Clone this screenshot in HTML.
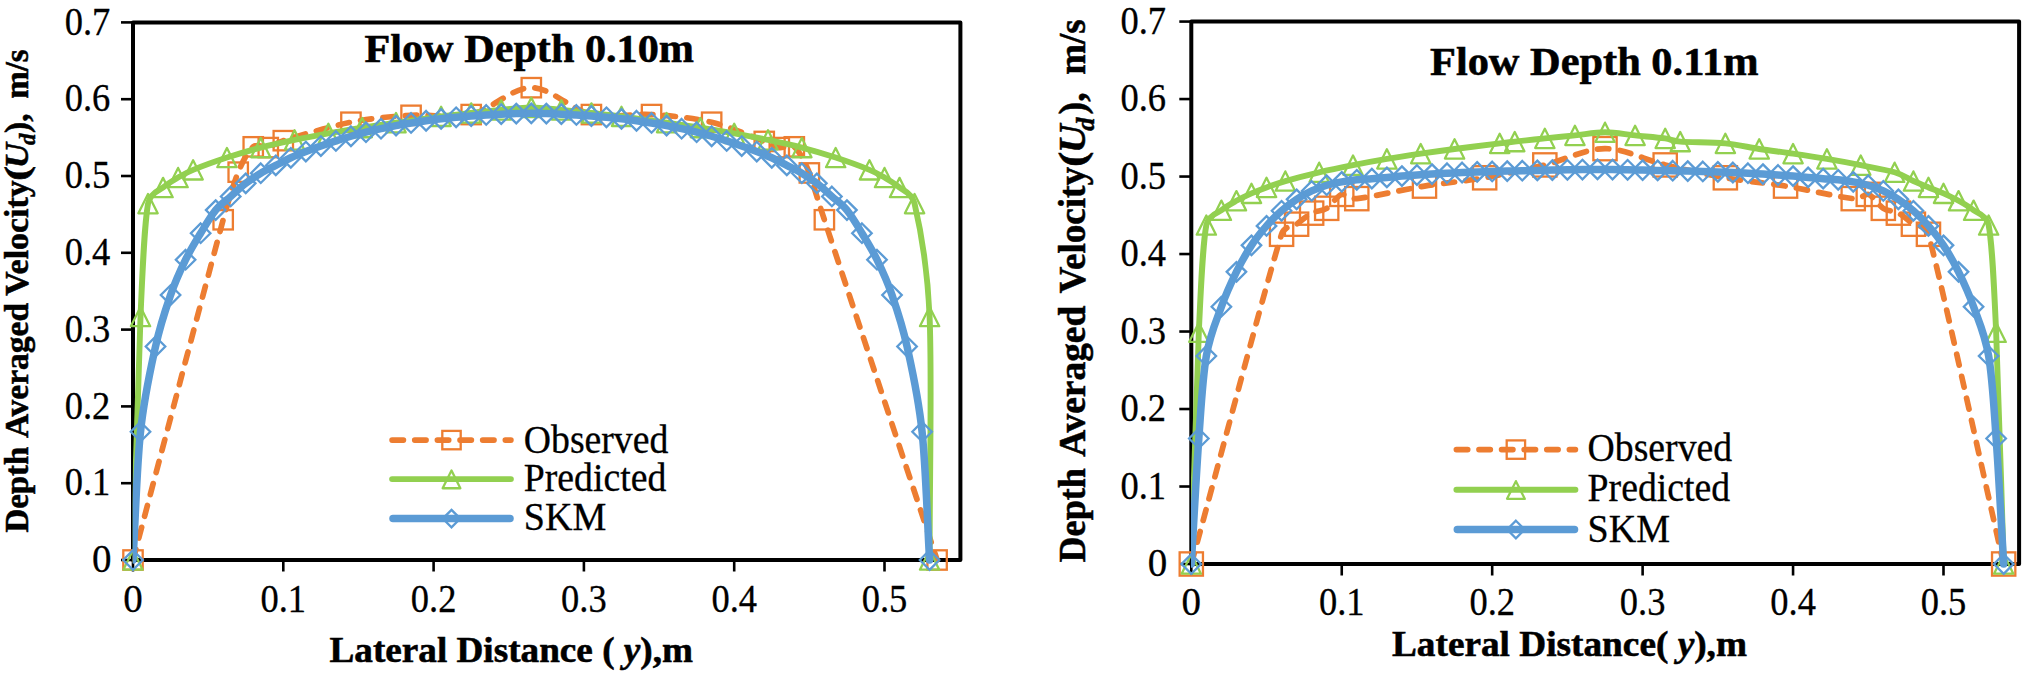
<!DOCTYPE html>
<html><head><meta charset="utf-8"><title>Depth averaged velocity</title>
<style>html,body{margin:0;padding:0;background:#fff}svg{display:block}</style></head>
<body>
<svg width="2023" height="674" viewBox="0 0 2023 674" font-family="'Liberation Serif', serif" fill="#000">
<rect width="2023" height="674" fill="#fff"/>
<path d="M133,560L133,22.40L960.4,22.40L960.4,560Z" fill="none" stroke="#000" stroke-width="4" stroke-linejoin="round"/>
<path d="M121,560.00L133,560.00" stroke="#000" stroke-width="2.6"/>
<path d="M121,483.20L133,483.20" stroke="#000" stroke-width="2.6"/>
<path d="M121,406.40L133,406.40" stroke="#000" stroke-width="2.6"/>
<path d="M121,329.60L133,329.60" stroke="#000" stroke-width="2.6"/>
<path d="M121,252.80L133,252.80" stroke="#000" stroke-width="2.6"/>
<path d="M121,176.00L133,176.00" stroke="#000" stroke-width="2.6"/>
<path d="M121,99.20L133,99.20" stroke="#000" stroke-width="2.6"/>
<path d="M121,22.40L133,22.40" stroke="#000" stroke-width="2.6"/>
<path d="M133.00,560L133.00,571.5" stroke="#000" stroke-width="2.6"/>
<path d="M283.30,560L283.30,571.5" stroke="#000" stroke-width="2.6"/>
<path d="M433.60,560L433.60,571.5" stroke="#000" stroke-width="2.6"/>
<path d="M583.90,560L583.90,571.5" stroke="#000" stroke-width="2.6"/>
<path d="M734.20,560L734.20,571.5" stroke="#000" stroke-width="2.6"/>
<path d="M884.50,560L884.50,571.5" stroke="#000" stroke-width="2.6"/>
<text x="111.5" y="572.2" font-size="39" text-anchor="end" font-weight="normal" stroke="#000" stroke-width="0.3">0</text>
<text x="110.3" y="495.4" font-size="39" text-anchor="end" font-weight="normal" stroke="#000" stroke-width="0.3" textLength="45.6" lengthAdjust="spacingAndGlyphs">0.1</text>
<text x="110.3" y="418.6" font-size="39" text-anchor="end" font-weight="normal" stroke="#000" stroke-width="0.3" textLength="45.6" lengthAdjust="spacingAndGlyphs">0.2</text>
<text x="110.3" y="341.8" font-size="39" text-anchor="end" font-weight="normal" stroke="#000" stroke-width="0.3" textLength="45.6" lengthAdjust="spacingAndGlyphs">0.3</text>
<text x="110.3" y="265.0" font-size="39" text-anchor="end" font-weight="normal" stroke="#000" stroke-width="0.3" textLength="45.6" lengthAdjust="spacingAndGlyphs">0.4</text>
<text x="110.3" y="188.2" font-size="39" text-anchor="end" font-weight="normal" stroke="#000" stroke-width="0.3" textLength="45.6" lengthAdjust="spacingAndGlyphs">0.5</text>
<text x="110.3" y="111.4" font-size="39" text-anchor="end" font-weight="normal" stroke="#000" stroke-width="0.3" textLength="45.6" lengthAdjust="spacingAndGlyphs">0.6</text>
<text x="110.3" y="34.6" font-size="39" text-anchor="end" font-weight="normal" stroke="#000" stroke-width="0.3" textLength="45.6" lengthAdjust="spacingAndGlyphs">0.7</text>
<text x="133.0" y="611.5" font-size="39" text-anchor="middle" font-weight="normal" stroke="#000" stroke-width="0.3">0</text>
<text x="283.3" y="611.5" font-size="39" text-anchor="middle" font-weight="normal" stroke="#000" stroke-width="0.3" textLength="45.6" lengthAdjust="spacingAndGlyphs">0.1</text>
<text x="433.6" y="611.5" font-size="39" text-anchor="middle" font-weight="normal" stroke="#000" stroke-width="0.3" textLength="45.6" lengthAdjust="spacingAndGlyphs">0.2</text>
<text x="583.9" y="611.5" font-size="39" text-anchor="middle" font-weight="normal" stroke="#000" stroke-width="0.3" textLength="45.6" lengthAdjust="spacingAndGlyphs">0.3</text>
<text x="734.2" y="611.5" font-size="39" text-anchor="middle" font-weight="normal" stroke="#000" stroke-width="0.3" textLength="45.6" lengthAdjust="spacingAndGlyphs">0.4</text>
<text x="884.5" y="611.5" font-size="39" text-anchor="middle" font-weight="normal" stroke="#000" stroke-width="0.3" textLength="45.6" lengthAdjust="spacingAndGlyphs">0.5</text>
<clipPath id="cl"><rect x="132.7" y="0" width="900" height="674"/></clipPath>
<path d="M133.00,560.00C163.06,446.59 205.65,284.42 223.18,219.78C229.72,195.68 236.34,176.69 238.21,172.16C243.22,160.00 248.23,150.91 253.24,146.82C258.25,142.72 263.26,148.61 268.27,147.58C271.15,147.00 275.39,143.10 283.30,140.67C297.08,136.45 329.64,126.46 350.93,122.24C372.23,118.02 391.01,116.61 411.06,115.33C431.10,114.05 451.13,119.17 471.18,114.56C491.22,109.95 511.26,87.68 531.30,87.68C551.34,87.68 571.38,110.08 591.41,114.56C611.45,119.04 631.50,113.28 651.53,114.56C671.57,115.84 692.87,117.76 711.65,122.24C730.44,126.72 752.99,137.22 764.26,141.44C771.86,144.29 775.91,146.98 779.29,147.58C784.30,148.48 789.31,142.59 794.32,146.82C799.33,151.04 804.34,160.77 809.35,172.93C811.16,177.33 816.67,196.42 824.38,219.78C845.67,284.29 899.53,446.59 937.11,560.00" fill="none" stroke="#ED7D31" stroke-width="5.7" stroke-dasharray="11.3 11.35" stroke-linecap="round" stroke-linejoin="round" clip-path="url(#cl)"/>
<rect x="123.30" y="550.30" width="19.40" height="19.40" fill="none" stroke="#ED7D31" stroke-width="2.3"/>
<rect x="213.48" y="210.08" width="19.40" height="19.40" fill="none" stroke="#ED7D31" stroke-width="2.3"/>
<rect x="228.51" y="162.46" width="19.40" height="19.40" fill="none" stroke="#ED7D31" stroke-width="2.3"/>
<rect x="243.54" y="137.12" width="19.40" height="19.40" fill="none" stroke="#ED7D31" stroke-width="2.3"/>
<rect x="258.57" y="137.88" width="19.40" height="19.40" fill="none" stroke="#ED7D31" stroke-width="2.3"/>
<rect x="273.60" y="130.97" width="19.40" height="19.40" fill="none" stroke="#ED7D31" stroke-width="2.3"/>
<rect x="341.23" y="112.54" width="19.40" height="19.40" fill="none" stroke="#ED7D31" stroke-width="2.3"/>
<rect x="401.36" y="105.63" width="19.40" height="19.40" fill="none" stroke="#ED7D31" stroke-width="2.3"/>
<rect x="461.48" y="104.86" width="19.40" height="19.40" fill="none" stroke="#ED7D31" stroke-width="2.3"/>
<rect x="521.60" y="77.98" width="19.40" height="19.40" fill="none" stroke="#ED7D31" stroke-width="2.3"/>
<rect x="581.71" y="104.86" width="19.40" height="19.40" fill="none" stroke="#ED7D31" stroke-width="2.3"/>
<rect x="641.83" y="104.86" width="19.40" height="19.40" fill="none" stroke="#ED7D31" stroke-width="2.3"/>
<rect x="701.95" y="112.54" width="19.40" height="19.40" fill="none" stroke="#ED7D31" stroke-width="2.3"/>
<rect x="754.56" y="131.74" width="19.40" height="19.40" fill="none" stroke="#ED7D31" stroke-width="2.3"/>
<rect x="769.59" y="137.88" width="19.40" height="19.40" fill="none" stroke="#ED7D31" stroke-width="2.3"/>
<rect x="784.62" y="137.12" width="19.40" height="19.40" fill="none" stroke="#ED7D31" stroke-width="2.3"/>
<rect x="799.65" y="163.23" width="19.40" height="19.40" fill="none" stroke="#ED7D31" stroke-width="2.3"/>
<rect x="814.68" y="210.08" width="19.40" height="19.40" fill="none" stroke="#ED7D31" stroke-width="2.3"/>
<rect x="927.40" y="550.30" width="19.40" height="19.40" fill="none" stroke="#ED7D31" stroke-width="2.3"/>
<path d="M133.00,560.00C135.50,478.85 138.01,375.94 140.51,316.54C142.90,260.02 144.45,224.11 148.03,203.65C149.93,192.79 160.53,189.72 163.06,187.52C168.07,183.17 173.08,180.48 178.09,177.54C182.90,174.71 185.31,173.05 193.12,169.86C201.26,166.53 215.66,161.28 226.94,157.57C238.21,153.86 249.48,150.53 260.75,147.58C272.03,144.64 283.30,142.27 294.57,139.90C305.84,137.54 317.12,135.42 328.39,133.38C339.66,131.33 350.94,129.40 362.21,127.62C373.48,125.84 382.87,124.58 396.02,122.70C409.18,120.82 428.59,117.94 441.12,116.33C453.64,114.71 461.16,114.09 471.18,113.02C481.19,111.96 491.22,110.89 501.24,109.95C511.25,109.02 521.28,107.42 531.30,107.42C541.32,107.42 551.34,109.02 561.36,109.95C571.38,110.89 581.40,111.96 591.42,113.02C601.44,114.09 608.95,114.71 621.48,116.33C634.00,117.94 653.41,120.82 666.57,122.70C679.72,124.58 689.11,125.84 700.38,127.62C711.66,129.40 722.93,131.33 734.20,133.38C745.47,135.42 756.75,137.54 768.02,139.90C779.29,142.27 790.56,144.64 801.84,147.58C813.11,150.53 824.38,153.86 835.65,157.57C846.93,161.28 861.33,166.53 869.47,169.86C877.28,173.05 879.69,174.71 884.50,177.54C889.51,180.48 894.52,183.17 899.53,187.52C902.03,189.69 912.06,192.91 914.56,203.65C919.36,224.25 927.19,259.65 929.59,316.54C932.10,375.94 929.59,478.85 929.59,560.00" fill="none" stroke="#92D050" stroke-width="5.9" stroke-linecap="round" stroke-linejoin="round" clip-path="url(#cl)"/>
<path d="M133.00,550.35L142.65,569.65L123.35,569.65Z" fill="none" stroke="#92D050" stroke-width="2.3" stroke-linejoin="round"/>
<path d="M140.51,306.89L150.16,326.19L130.86,326.19Z" fill="none" stroke="#92D050" stroke-width="2.3" stroke-linejoin="round"/>
<path d="M148.03,194.00L157.68,213.30L138.38,213.30Z" fill="none" stroke="#92D050" stroke-width="2.3" stroke-linejoin="round"/>
<path d="M163.06,177.87L172.71,197.17L153.41,197.17Z" fill="none" stroke="#92D050" stroke-width="2.3" stroke-linejoin="round"/>
<path d="M178.09,167.89L187.74,187.19L168.44,187.19Z" fill="none" stroke="#92D050" stroke-width="2.3" stroke-linejoin="round"/>
<path d="M193.12,160.21L202.77,179.51L183.47,179.51Z" fill="none" stroke="#92D050" stroke-width="2.3" stroke-linejoin="round"/>
<path d="M226.94,147.92L236.59,167.22L217.29,167.22Z" fill="none" stroke="#92D050" stroke-width="2.3" stroke-linejoin="round"/>
<path d="M260.75,137.93L270.40,157.23L251.10,157.23Z" fill="none" stroke="#92D050" stroke-width="2.3" stroke-linejoin="round"/>
<path d="M294.57,130.25L304.22,149.55L284.92,149.55Z" fill="none" stroke="#92D050" stroke-width="2.3" stroke-linejoin="round"/>
<path d="M328.39,123.73L338.04,143.03L318.74,143.03Z" fill="none" stroke="#92D050" stroke-width="2.3" stroke-linejoin="round"/>
<path d="M362.21,117.97L371.86,137.27L352.56,137.27Z" fill="none" stroke="#92D050" stroke-width="2.3" stroke-linejoin="round"/>
<path d="M396.02,113.05L405.67,132.35L386.38,132.35Z" fill="none" stroke="#92D050" stroke-width="2.3" stroke-linejoin="round"/>
<path d="M441.12,106.68L450.76,125.98L431.47,125.98Z" fill="none" stroke="#92D050" stroke-width="2.3" stroke-linejoin="round"/>
<path d="M471.18,103.37L480.82,122.67L461.53,122.67Z" fill="none" stroke="#92D050" stroke-width="2.3" stroke-linejoin="round"/>
<path d="M501.24,100.30L510.88,119.60L491.59,119.60Z" fill="none" stroke="#92D050" stroke-width="2.3" stroke-linejoin="round"/>
<path d="M531.30,97.77L540.95,117.07L521.65,117.07Z" fill="none" stroke="#92D050" stroke-width="2.3" stroke-linejoin="round"/>
<path d="M561.36,100.30L571.00,119.60L551.71,119.60Z" fill="none" stroke="#92D050" stroke-width="2.3" stroke-linejoin="round"/>
<path d="M591.42,103.37L601.07,122.67L581.77,122.67Z" fill="none" stroke="#92D050" stroke-width="2.3" stroke-linejoin="round"/>
<path d="M621.48,106.68L631.13,125.98L611.83,125.98Z" fill="none" stroke="#92D050" stroke-width="2.3" stroke-linejoin="round"/>
<path d="M666.57,113.05L676.22,132.35L656.92,132.35Z" fill="none" stroke="#92D050" stroke-width="2.3" stroke-linejoin="round"/>
<path d="M700.38,117.97L710.03,137.27L690.73,137.27Z" fill="none" stroke="#92D050" stroke-width="2.3" stroke-linejoin="round"/>
<path d="M734.20,123.73L743.85,143.03L724.55,143.03Z" fill="none" stroke="#92D050" stroke-width="2.3" stroke-linejoin="round"/>
<path d="M768.02,130.25L777.67,149.55L758.37,149.55Z" fill="none" stroke="#92D050" stroke-width="2.3" stroke-linejoin="round"/>
<path d="M801.84,137.93L811.49,157.23L792.19,157.23Z" fill="none" stroke="#92D050" stroke-width="2.3" stroke-linejoin="round"/>
<path d="M835.65,147.92L845.30,167.22L826.00,167.22Z" fill="none" stroke="#92D050" stroke-width="2.3" stroke-linejoin="round"/>
<path d="M869.47,160.21L879.12,179.51L859.82,179.51Z" fill="none" stroke="#92D050" stroke-width="2.3" stroke-linejoin="round"/>
<path d="M884.50,167.89L894.15,187.19L874.85,187.19Z" fill="none" stroke="#92D050" stroke-width="2.3" stroke-linejoin="round"/>
<path d="M899.53,177.87L909.18,197.17L889.88,197.17Z" fill="none" stroke="#92D050" stroke-width="2.3" stroke-linejoin="round"/>
<path d="M914.56,194.00L924.21,213.30L904.91,213.30Z" fill="none" stroke="#92D050" stroke-width="2.3" stroke-linejoin="round"/>
<path d="M929.59,306.89L939.24,326.19L919.94,326.19Z" fill="none" stroke="#92D050" stroke-width="2.3" stroke-linejoin="round"/>
<path d="M929.59,550.35L939.24,569.65L919.94,569.65Z" fill="none" stroke="#92D050" stroke-width="2.3" stroke-linejoin="round"/>
<path d="M133.00,560.00C135.50,517.25 136.76,467.33 140.51,431.74C144.27,396.16 150.53,369.28 155.54,346.50C160.55,323.71 165.56,309.50 170.57,295.04C175.58,280.58 180.59,270.02 185.60,259.71C190.61,249.41 195.62,241.49 200.63,233.22C205.64,224.95 210.66,216.22 215.67,210.10C220.68,203.97 225.69,200.94 230.69,196.48C235.70,192.02 240.72,187.20 245.73,183.33C250.74,179.45 255.75,176.22 260.75,173.23C265.76,170.24 270.77,167.97 275.78,165.39C280.79,162.82 285.81,160.08 290.82,157.77C295.83,155.46 300.84,153.48 305.85,151.53C310.86,149.57 315.87,147.81 320.88,146.04C325.88,144.28 330.89,142.57 335.90,140.94C340.91,139.31 345.93,137.71 350.94,136.25C355.95,134.79 360.96,133.45 365.97,132.19C370.98,130.93 375.99,129.79 381.00,128.69C386.00,127.59 391.02,126.55 396.03,125.60C401.04,124.65 406.05,123.79 411.06,122.98C416.06,122.18 421.08,121.45 426.09,120.75C431.10,120.06 436.11,119.40 441.12,118.82C446.12,118.24 451.13,117.73 456.14,117.26C461.15,116.79 466.17,116.38 471.18,116.00C476.19,115.61 481.20,115.24 486.21,114.94C491.22,114.63 496.23,114.40 501.24,114.18C506.25,113.95 511.25,113.75 516.26,113.61C521.27,113.47 526.29,113.33 531.30,113.33C536.31,113.33 541.32,113.47 546.33,113.61C551.34,113.75 556.35,113.95 561.36,114.18C566.37,114.40 571.38,114.63 576.38,114.94C581.39,115.24 586.40,115.61 591.41,116.00C596.42,116.38 601.43,116.79 606.44,117.26C611.45,117.73 616.47,118.24 621.48,118.82C626.49,119.40 631.50,120.06 636.51,120.75C641.52,121.45 646.53,122.18 651.54,122.98C656.55,123.79 661.56,124.65 666.57,125.60C671.58,126.55 676.59,127.59 681.60,128.69C686.61,129.79 691.62,130.93 696.62,132.19C701.63,133.45 706.64,134.79 711.65,136.25C716.66,137.71 721.68,139.31 726.69,140.94C731.70,142.57 736.71,144.28 741.72,146.04C746.73,147.81 751.74,149.57 756.75,151.53C761.75,153.48 766.76,155.46 771.77,157.77C776.78,160.08 781.79,162.82 786.80,165.39C791.81,167.97 796.83,170.24 801.84,173.23C806.85,176.22 811.86,179.45 816.87,183.33C821.88,187.20 826.88,192.02 831.89,196.48C836.90,200.94 841.92,203.97 846.93,210.10C851.94,216.22 856.94,224.95 861.95,233.22C866.96,241.49 871.98,249.41 876.99,259.71C882.00,270.02 887.00,280.58 892.01,295.04C897.02,309.50 902.04,323.71 907.05,346.50C912.06,369.28 918.32,396.16 922.08,431.74C925.83,467.33 927.09,517.25 929.59,560.00" fill="none" stroke="#5B9BD5" stroke-width="7.5" stroke-linecap="round" stroke-linejoin="round" clip-path="url(#cl)"/>
<path d="M133.00,550.25L142.75,560.00L133.00,569.75L123.25,560.00Z" fill="none" stroke="#5B9BD5" stroke-width="2.3" stroke-linejoin="miter"/>
<path d="M140.51,421.99L150.26,431.74L140.51,441.49L130.76,431.74Z" fill="none" stroke="#5B9BD5" stroke-width="2.3" stroke-linejoin="miter"/>
<path d="M155.54,336.75L165.29,346.50L155.54,356.25L145.79,346.50Z" fill="none" stroke="#5B9BD5" stroke-width="2.3" stroke-linejoin="miter"/>
<path d="M170.57,285.29L180.32,295.04L170.57,304.79L160.82,295.04Z" fill="none" stroke="#5B9BD5" stroke-width="2.3" stroke-linejoin="miter"/>
<path d="M185.60,249.96L195.35,259.71L185.60,269.46L175.85,259.71Z" fill="none" stroke="#5B9BD5" stroke-width="2.3" stroke-linejoin="miter"/>
<path d="M200.63,223.47L210.38,233.22L200.63,242.97L190.88,233.22Z" fill="none" stroke="#5B9BD5" stroke-width="2.3" stroke-linejoin="miter"/>
<path d="M215.67,200.35L225.42,210.10L215.67,219.85L205.92,210.10Z" fill="none" stroke="#5B9BD5" stroke-width="2.3" stroke-linejoin="miter"/>
<path d="M230.69,186.73L240.44,196.48L230.69,206.23L220.94,196.48Z" fill="none" stroke="#5B9BD5" stroke-width="2.3" stroke-linejoin="miter"/>
<path d="M245.73,173.58L255.48,183.33L245.73,193.08L235.98,183.33Z" fill="none" stroke="#5B9BD5" stroke-width="2.3" stroke-linejoin="miter"/>
<path d="M260.75,163.48L270.50,173.23L260.75,182.98L251.00,173.23Z" fill="none" stroke="#5B9BD5" stroke-width="2.3" stroke-linejoin="miter"/>
<path d="M275.78,155.64L285.53,165.39L275.78,175.14L266.03,165.39Z" fill="none" stroke="#5B9BD5" stroke-width="2.3" stroke-linejoin="miter"/>
<path d="M290.82,148.02L300.57,157.77L290.82,167.52L281.07,157.77Z" fill="none" stroke="#5B9BD5" stroke-width="2.3" stroke-linejoin="miter"/>
<path d="M305.85,141.78L315.60,151.53L305.85,161.28L296.10,151.53Z" fill="none" stroke="#5B9BD5" stroke-width="2.3" stroke-linejoin="miter"/>
<path d="M320.88,136.29L330.62,146.04L320.88,155.79L311.12,146.04Z" fill="none" stroke="#5B9BD5" stroke-width="2.3" stroke-linejoin="miter"/>
<path d="M335.90,131.19L345.65,140.94L335.90,150.69L326.15,140.94Z" fill="none" stroke="#5B9BD5" stroke-width="2.3" stroke-linejoin="miter"/>
<path d="M350.94,126.50L360.69,136.25L350.94,146.00L341.19,136.25Z" fill="none" stroke="#5B9BD5" stroke-width="2.3" stroke-linejoin="miter"/>
<path d="M365.97,122.44L375.72,132.19L365.97,141.94L356.22,132.19Z" fill="none" stroke="#5B9BD5" stroke-width="2.3" stroke-linejoin="miter"/>
<path d="M381.00,118.94L390.75,128.69L381.00,138.44L371.25,128.69Z" fill="none" stroke="#5B9BD5" stroke-width="2.3" stroke-linejoin="miter"/>
<path d="M396.03,115.85L405.78,125.60L396.03,135.35L386.28,125.60Z" fill="none" stroke="#5B9BD5" stroke-width="2.3" stroke-linejoin="miter"/>
<path d="M411.06,113.23L420.81,122.98L411.06,132.73L401.31,122.98Z" fill="none" stroke="#5B9BD5" stroke-width="2.3" stroke-linejoin="miter"/>
<path d="M426.09,111.00L435.84,120.75L426.09,130.50L416.34,120.75Z" fill="none" stroke="#5B9BD5" stroke-width="2.3" stroke-linejoin="miter"/>
<path d="M441.12,109.07L450.87,118.82L441.12,128.57L431.37,118.82Z" fill="none" stroke="#5B9BD5" stroke-width="2.3" stroke-linejoin="miter"/>
<path d="M456.14,107.51L465.89,117.26L456.14,127.01L446.39,117.26Z" fill="none" stroke="#5B9BD5" stroke-width="2.3" stroke-linejoin="miter"/>
<path d="M471.18,106.25L480.93,116.00L471.18,125.75L461.43,116.00Z" fill="none" stroke="#5B9BD5" stroke-width="2.3" stroke-linejoin="miter"/>
<path d="M486.21,105.19L495.96,114.94L486.21,124.69L476.46,114.94Z" fill="none" stroke="#5B9BD5" stroke-width="2.3" stroke-linejoin="miter"/>
<path d="M501.24,104.43L510.99,114.18L501.24,123.93L491.49,114.18Z" fill="none" stroke="#5B9BD5" stroke-width="2.3" stroke-linejoin="miter"/>
<path d="M516.26,103.86L526.01,113.61L516.26,123.36L506.51,113.61Z" fill="none" stroke="#5B9BD5" stroke-width="2.3" stroke-linejoin="miter"/>
<path d="M531.30,103.58L541.05,113.33L531.30,123.08L521.55,113.33Z" fill="none" stroke="#5B9BD5" stroke-width="2.3" stroke-linejoin="miter"/>
<path d="M546.33,103.86L556.08,113.61L546.33,123.36L536.58,113.61Z" fill="none" stroke="#5B9BD5" stroke-width="2.3" stroke-linejoin="miter"/>
<path d="M561.36,104.43L571.11,114.18L561.36,123.93L551.61,114.18Z" fill="none" stroke="#5B9BD5" stroke-width="2.3" stroke-linejoin="miter"/>
<path d="M576.38,105.19L586.13,114.94L576.38,124.69L566.63,114.94Z" fill="none" stroke="#5B9BD5" stroke-width="2.3" stroke-linejoin="miter"/>
<path d="M591.41,106.25L601.16,116.00L591.41,125.75L581.66,116.00Z" fill="none" stroke="#5B9BD5" stroke-width="2.3" stroke-linejoin="miter"/>
<path d="M606.44,107.51L616.19,117.26L606.44,127.01L596.69,117.26Z" fill="none" stroke="#5B9BD5" stroke-width="2.3" stroke-linejoin="miter"/>
<path d="M621.48,109.07L631.23,118.82L621.48,128.57L611.73,118.82Z" fill="none" stroke="#5B9BD5" stroke-width="2.3" stroke-linejoin="miter"/>
<path d="M636.51,111.00L646.26,120.75L636.51,130.50L626.76,120.75Z" fill="none" stroke="#5B9BD5" stroke-width="2.3" stroke-linejoin="miter"/>
<path d="M651.54,113.23L661.29,122.98L651.54,132.73L641.79,122.98Z" fill="none" stroke="#5B9BD5" stroke-width="2.3" stroke-linejoin="miter"/>
<path d="M666.57,115.85L676.32,125.60L666.57,135.35L656.82,125.60Z" fill="none" stroke="#5B9BD5" stroke-width="2.3" stroke-linejoin="miter"/>
<path d="M681.60,118.94L691.35,128.69L681.60,138.44L671.85,128.69Z" fill="none" stroke="#5B9BD5" stroke-width="2.3" stroke-linejoin="miter"/>
<path d="M696.62,122.44L706.38,132.19L696.62,141.94L686.88,132.19Z" fill="none" stroke="#5B9BD5" stroke-width="2.3" stroke-linejoin="miter"/>
<path d="M711.65,126.50L721.40,136.25L711.65,146.00L701.90,136.25Z" fill="none" stroke="#5B9BD5" stroke-width="2.3" stroke-linejoin="miter"/>
<path d="M726.69,131.19L736.44,140.94L726.69,150.69L716.94,140.94Z" fill="none" stroke="#5B9BD5" stroke-width="2.3" stroke-linejoin="miter"/>
<path d="M741.72,136.29L751.47,146.04L741.72,155.79L731.97,146.04Z" fill="none" stroke="#5B9BD5" stroke-width="2.3" stroke-linejoin="miter"/>
<path d="M756.75,141.78L766.50,151.53L756.75,161.28L747.00,151.53Z" fill="none" stroke="#5B9BD5" stroke-width="2.3" stroke-linejoin="miter"/>
<path d="M771.77,148.02L781.52,157.77L771.77,167.52L762.02,157.77Z" fill="none" stroke="#5B9BD5" stroke-width="2.3" stroke-linejoin="miter"/>
<path d="M786.80,155.64L796.55,165.39L786.80,175.14L777.05,165.39Z" fill="none" stroke="#5B9BD5" stroke-width="2.3" stroke-linejoin="miter"/>
<path d="M801.84,163.48L811.59,173.23L801.84,182.98L792.09,173.23Z" fill="none" stroke="#5B9BD5" stroke-width="2.3" stroke-linejoin="miter"/>
<path d="M816.87,173.58L826.62,183.33L816.87,193.08L807.12,183.33Z" fill="none" stroke="#5B9BD5" stroke-width="2.3" stroke-linejoin="miter"/>
<path d="M831.89,186.73L841.64,196.48L831.89,206.23L822.14,196.48Z" fill="none" stroke="#5B9BD5" stroke-width="2.3" stroke-linejoin="miter"/>
<path d="M846.93,200.35L856.68,210.10L846.93,219.85L837.18,210.10Z" fill="none" stroke="#5B9BD5" stroke-width="2.3" stroke-linejoin="miter"/>
<path d="M861.95,223.47L871.70,233.22L861.95,242.97L852.20,233.22Z" fill="none" stroke="#5B9BD5" stroke-width="2.3" stroke-linejoin="miter"/>
<path d="M876.99,249.96L886.74,259.71L876.99,269.46L867.24,259.71Z" fill="none" stroke="#5B9BD5" stroke-width="2.3" stroke-linejoin="miter"/>
<path d="M892.01,285.29L901.76,295.04L892.01,304.79L882.26,295.04Z" fill="none" stroke="#5B9BD5" stroke-width="2.3" stroke-linejoin="miter"/>
<path d="M907.05,336.75L916.80,346.50L907.05,356.25L897.30,346.50Z" fill="none" stroke="#5B9BD5" stroke-width="2.3" stroke-linejoin="miter"/>
<path d="M922.08,421.99L931.83,431.74L922.08,441.49L912.33,431.74Z" fill="none" stroke="#5B9BD5" stroke-width="2.3" stroke-linejoin="miter"/>
<path d="M929.59,550.25L939.34,560.00L929.59,569.75L919.84,560.00Z" fill="none" stroke="#5B9BD5" stroke-width="2.3" stroke-linejoin="miter"/>
<path d="M392.1,440.1L510.90000000000003,440.1" stroke="#ED7D31" stroke-width="5.7" stroke-dasharray="11.3 11.35" stroke-linecap="round"/>
<rect x="442.30" y="430.90" width="18.40" height="18.40" fill="none" stroke="#ED7D31" stroke-width="2.3"/>
<path d="M392.1,479.1L510.90000000000003,479.1" stroke="#92D050" stroke-width="5.9" stroke-linecap="round"/>
<path d="M451.50,470.55L460.35,488.25L442.65,488.25Z" fill="none" stroke="#92D050" stroke-width="2.3" stroke-linejoin="round"/>
<path d="M393.0,518.6L510.00000000000006,518.6" stroke="#5B9BD5" stroke-width="7.5" stroke-linecap="round"/>
<path d="M451.50,509.85L460.25,518.60L451.50,527.35L442.75,518.60Z" fill="none" stroke="#5B9BD5" stroke-width="2.3" stroke-linejoin="miter"/>
<text x="523.8" y="452.6" font-size="40" text-anchor="start" font-weight="normal" stroke="#000" stroke-width="0.3" textLength="144.5" lengthAdjust="spacingAndGlyphs">Observed</text>
<text x="523.8" y="491.2" font-size="40" text-anchor="start" font-weight="normal" stroke="#000" stroke-width="0.3" textLength="142.5" lengthAdjust="spacingAndGlyphs">Predicted</text>
<text x="523.8" y="530.0" font-size="40" text-anchor="start" font-weight="normal" stroke="#000" stroke-width="0.3" textLength="82.5" lengthAdjust="spacingAndGlyphs">SKM</text>
<text x="364.5" y="61.7" font-size="40" text-anchor="start" font-weight="bold" stroke="#000" stroke-width="0.55" textLength="329.5" lengthAdjust="spacingAndGlyphs">Flow Depth 0.10m</text>
<text x="329.5" y="661.5" font-size="36" text-anchor="start" font-weight="bold" stroke="#000" stroke-width="0.55" textLength="363.5" lengthAdjust="spacingAndGlyphs">Lateral Distance ( <tspan font-style="italic">y</tspan>),m</text>
<g transform="translate(28.3,0) rotate(-90)"><text y="0" font-weight="bold" stroke="#000" stroke-width="0.5"><tspan x="-532.57" dy="0.00" font-size="34" font-style="normal" textLength="85.94" lengthAdjust="spacingAndGlyphs">Depth</tspan><tspan font-size="34"> </tspan><tspan x="-438.10" dy="0.00" font-size="34" font-style="normal" textLength="135.22" lengthAdjust="spacingAndGlyphs">Averaged</tspan><tspan font-size="34"> </tspan><tspan x="-295.80" dy="0.00" font-size="34" font-style="normal" textLength="115.54" lengthAdjust="spacingAndGlyphs">Velocity</tspan><tspan x="-180.93" dy="0.00" font-size="34" font-style="normal" textLength="15.11" lengthAdjust="spacingAndGlyphs">(</tspan><tspan x="-168.29" dy="0.00" font-size="34" font-style="italic" textLength="25.31" lengthAdjust="spacingAndGlyphs">U</tspan><tspan x="-145.00" dy="7.10" font-size="23" font-style="italic" textLength="11.40" lengthAdjust="spacingAndGlyphs">d</tspan><tspan x="-132.98" dy="-7.10" font-size="34" font-style="normal" textLength="19.48" lengthAdjust="spacingAndGlyphs">),</tspan><tspan font-size="34">&#160; </tspan><tspan x="-98.77" dy="0.00" font-size="34" font-style="normal" textLength="49.44" lengthAdjust="spacingAndGlyphs">m/s</tspan></text></g>
<path d="M1191.3,564L1191.3,21.57L2019.1,21.57L2019.1,564Z" fill="none" stroke="#000" stroke-width="4" stroke-linejoin="round"/>
<path d="M1179.3,564.00L1191.3,564.00" stroke="#000" stroke-width="2.6"/>
<path d="M1179.3,486.51L1191.3,486.51" stroke="#000" stroke-width="2.6"/>
<path d="M1179.3,409.02L1191.3,409.02" stroke="#000" stroke-width="2.6"/>
<path d="M1179.3,331.53L1191.3,331.53" stroke="#000" stroke-width="2.6"/>
<path d="M1179.3,254.04L1191.3,254.04" stroke="#000" stroke-width="2.6"/>
<path d="M1179.3,176.55L1191.3,176.55" stroke="#000" stroke-width="2.6"/>
<path d="M1179.3,99.06L1191.3,99.06" stroke="#000" stroke-width="2.6"/>
<path d="M1179.3,21.57L1191.3,21.57" stroke="#000" stroke-width="2.6"/>
<path d="M1191.30,564L1191.30,575.5" stroke="#000" stroke-width="2.6"/>
<path d="M1341.74,564L1341.74,575.5" stroke="#000" stroke-width="2.6"/>
<path d="M1492.18,564L1492.18,575.5" stroke="#000" stroke-width="2.6"/>
<path d="M1642.62,564L1642.62,575.5" stroke="#000" stroke-width="2.6"/>
<path d="M1793.06,564L1793.06,575.5" stroke="#000" stroke-width="2.6"/>
<path d="M1943.50,564L1943.50,575.5" stroke="#000" stroke-width="2.6"/>
<text x="1167.3" y="576.2" font-size="39" text-anchor="end" font-weight="normal" stroke="#000" stroke-width="0.3">0</text>
<text x="1166.1" y="498.7" font-size="39" text-anchor="end" font-weight="normal" stroke="#000" stroke-width="0.3" textLength="45.6" lengthAdjust="spacingAndGlyphs">0.1</text>
<text x="1166.1" y="421.2" font-size="39" text-anchor="end" font-weight="normal" stroke="#000" stroke-width="0.3" textLength="45.6" lengthAdjust="spacingAndGlyphs">0.2</text>
<text x="1166.1" y="343.7" font-size="39" text-anchor="end" font-weight="normal" stroke="#000" stroke-width="0.3" textLength="45.6" lengthAdjust="spacingAndGlyphs">0.3</text>
<text x="1166.1" y="266.2" font-size="39" text-anchor="end" font-weight="normal" stroke="#000" stroke-width="0.3" textLength="45.6" lengthAdjust="spacingAndGlyphs">0.4</text>
<text x="1166.1" y="188.8" font-size="39" text-anchor="end" font-weight="normal" stroke="#000" stroke-width="0.3" textLength="45.6" lengthAdjust="spacingAndGlyphs">0.5</text>
<text x="1166.1" y="111.3" font-size="39" text-anchor="end" font-weight="normal" stroke="#000" stroke-width="0.3" textLength="45.6" lengthAdjust="spacingAndGlyphs">0.6</text>
<text x="1166.1" y="33.8" font-size="39" text-anchor="end" font-weight="normal" stroke="#000" stroke-width="0.3" textLength="45.6" lengthAdjust="spacingAndGlyphs">0.7</text>
<text x="1191.3" y="615.2" font-size="39" text-anchor="middle" font-weight="normal" stroke="#000" stroke-width="0.3">0</text>
<text x="1341.7" y="615.2" font-size="39" text-anchor="middle" font-weight="normal" stroke="#000" stroke-width="0.3" textLength="45.6" lengthAdjust="spacingAndGlyphs">0.1</text>
<text x="1492.2" y="615.2" font-size="39" text-anchor="middle" font-weight="normal" stroke="#000" stroke-width="0.3" textLength="45.6" lengthAdjust="spacingAndGlyphs">0.2</text>
<text x="1642.6" y="615.2" font-size="39" text-anchor="middle" font-weight="normal" stroke="#000" stroke-width="0.3" textLength="45.6" lengthAdjust="spacingAndGlyphs">0.3</text>
<text x="1793.1" y="615.2" font-size="39" text-anchor="middle" font-weight="normal" stroke="#000" stroke-width="0.3" textLength="45.6" lengthAdjust="spacingAndGlyphs">0.4</text>
<text x="1943.5" y="615.2" font-size="39" text-anchor="middle" font-weight="normal" stroke="#000" stroke-width="0.3" textLength="45.6" lengthAdjust="spacingAndGlyphs">0.5</text>
<clipPath id="cr"><rect x="1191.0" y="0" width="900" height="674"/></clipPath>
<path d="M1191.30,564.00C1221.39,454.09 1264.01,290.91 1281.56,234.28C1284.24,225.63 1295.84,224.74 1296.61,224.21C1301.62,220.68 1306.64,215.77 1311.65,213.13C1316.67,210.48 1321.68,211.45 1326.70,208.32C1331.71,205.20 1336.73,195.99 1341.74,194.37C1344.57,193.46 1349.00,199.41 1356.78,198.63C1370.57,197.25 1403.17,189.56 1424.48,186.08C1445.79,182.61 1464.60,181.32 1484.66,177.79C1504.72,174.26 1524.78,169.78 1544.83,164.93C1564.89,160.07 1584.95,148.65 1605.01,148.65C1625.07,148.65 1645.13,160.07 1665.19,164.93C1685.24,169.78 1705.30,174.26 1725.36,177.79C1745.42,181.32 1764.23,182.61 1785.54,186.08C1806.85,189.56 1839.45,197.25 1853.24,198.63C1861.02,199.41 1865.45,193.46 1868.28,194.37C1873.29,195.99 1878.31,205.20 1883.32,208.32C1888.34,211.45 1893.35,210.48 1898.37,213.13C1903.38,215.77 1908.40,220.68 1913.41,224.21C1914.19,224.75 1926.13,225.53 1928.46,234.28C1943.50,290.91 1978.60,454.09 2003.68,564.00" fill="none" stroke="#ED7D31" stroke-width="5.7" stroke-dasharray="11.3 11.3" stroke-linecap="round" stroke-linejoin="round" clip-path="url(#cr)"/>
<rect x="1179.65" y="552.35" width="23.30" height="23.30" fill="none" stroke="#ED7D31" stroke-width="2.3"/>
<rect x="1269.91" y="222.63" width="23.30" height="23.30" fill="none" stroke="#ED7D31" stroke-width="2.3"/>
<rect x="1284.96" y="212.56" width="23.30" height="23.30" fill="none" stroke="#ED7D31" stroke-width="2.3"/>
<rect x="1300.00" y="201.48" width="23.30" height="23.30" fill="none" stroke="#ED7D31" stroke-width="2.3"/>
<rect x="1315.05" y="196.67" width="23.30" height="23.30" fill="none" stroke="#ED7D31" stroke-width="2.3"/>
<rect x="1330.09" y="182.72" width="23.30" height="23.30" fill="none" stroke="#ED7D31" stroke-width="2.3"/>
<rect x="1345.13" y="186.98" width="23.30" height="23.30" fill="none" stroke="#ED7D31" stroke-width="2.3"/>
<rect x="1412.83" y="174.43" width="23.30" height="23.30" fill="none" stroke="#ED7D31" stroke-width="2.3"/>
<rect x="1473.01" y="166.14" width="23.30" height="23.30" fill="none" stroke="#ED7D31" stroke-width="2.3"/>
<rect x="1533.18" y="153.28" width="23.30" height="23.30" fill="none" stroke="#ED7D31" stroke-width="2.3"/>
<rect x="1593.36" y="137.00" width="23.30" height="23.30" fill="none" stroke="#ED7D31" stroke-width="2.3"/>
<rect x="1653.54" y="153.28" width="23.30" height="23.30" fill="none" stroke="#ED7D31" stroke-width="2.3"/>
<rect x="1713.71" y="166.14" width="23.30" height="23.30" fill="none" stroke="#ED7D31" stroke-width="2.3"/>
<rect x="1773.89" y="174.43" width="23.30" height="23.30" fill="none" stroke="#ED7D31" stroke-width="2.3"/>
<rect x="1841.59" y="186.98" width="23.30" height="23.30" fill="none" stroke="#ED7D31" stroke-width="2.3"/>
<rect x="1856.63" y="182.72" width="23.30" height="23.30" fill="none" stroke="#ED7D31" stroke-width="2.3"/>
<rect x="1871.67" y="196.67" width="23.30" height="23.30" fill="none" stroke="#ED7D31" stroke-width="2.3"/>
<rect x="1886.72" y="201.48" width="23.30" height="23.30" fill="none" stroke="#ED7D31" stroke-width="2.3"/>
<rect x="1901.76" y="212.56" width="23.30" height="23.30" fill="none" stroke="#ED7D31" stroke-width="2.3"/>
<rect x="1916.81" y="222.63" width="23.30" height="23.30" fill="none" stroke="#ED7D31" stroke-width="2.3"/>
<rect x="1992.03" y="552.35" width="23.30" height="23.30" fill="none" stroke="#ED7D31" stroke-width="2.3"/>
<path d="M1191.30,564.00C1193.81,486.77 1196.31,388.80 1198.82,332.30C1201.21,278.60 1202.77,244.40 1206.34,225.06C1208.26,214.68 1218.83,212.33 1221.39,210.26C1226.40,206.20 1231.42,203.54 1236.43,200.73C1241.45,197.91 1246.46,195.59 1251.48,193.37C1256.49,191.14 1260.88,189.45 1266.52,187.40C1272.16,185.35 1276.55,183.56 1285.33,181.04C1294.10,178.53 1307.89,174.94 1319.17,172.29C1330.46,169.64 1341.74,167.38 1353.02,165.16C1364.31,162.94 1375.59,160.87 1386.87,158.96C1398.16,157.05 1409.44,155.36 1420.72,153.69C1432.00,152.02 1441.41,150.68 1454.57,148.96C1467.73,147.25 1489.67,144.61 1499.70,143.38C1507.22,142.46 1509.11,142.22 1514.75,141.60C1522.27,140.78 1534.80,139.46 1544.83,138.42C1554.86,137.39 1564.89,136.42 1574.92,135.40C1584.95,134.38 1594.98,132.30 1605.01,132.30C1615.04,132.30 1625.07,134.38 1635.10,135.40C1645.13,136.42 1657.66,137.39 1665.19,138.42C1670.93,139.21 1672.57,140.97 1680.23,141.60C1690.26,142.43 1712.20,142.16 1725.36,143.38C1738.53,144.61 1747.93,147.25 1759.21,148.96C1770.49,150.68 1781.78,152.02 1793.06,153.69C1804.34,155.36 1815.63,157.05 1826.91,158.96C1838.19,160.87 1849.48,162.94 1860.76,165.16C1872.04,167.38 1885.83,169.64 1894.61,172.29C1903.38,174.94 1907.77,178.53 1913.41,181.04C1919.05,183.56 1923.44,185.35 1928.46,187.40C1933.47,189.45 1938.49,191.14 1943.50,193.37C1948.51,195.59 1953.53,197.91 1958.54,200.73C1963.56,203.54 1968.57,206.20 1973.59,210.26C1976.15,212.33 1986.71,214.68 1988.63,225.06C1992.21,244.40 1993.77,278.60 1996.15,332.30C1998.66,388.80 2001.17,486.77 2003.68,564.00" fill="none" stroke="#92D050" stroke-width="5.9" stroke-linecap="round" stroke-linejoin="round" clip-path="url(#cr)"/>
<path d="M1191.30,554.35L1200.95,573.65L1181.65,573.65Z" fill="none" stroke="#92D050" stroke-width="2.3" stroke-linejoin="round"/>
<path d="M1198.82,322.65L1208.47,341.95L1189.17,341.95Z" fill="none" stroke="#92D050" stroke-width="2.3" stroke-linejoin="round"/>
<path d="M1206.34,215.41L1215.99,234.71L1196.69,234.71Z" fill="none" stroke="#92D050" stroke-width="2.3" stroke-linejoin="round"/>
<path d="M1221.39,200.61L1231.04,219.91L1211.74,219.91Z" fill="none" stroke="#92D050" stroke-width="2.3" stroke-linejoin="round"/>
<path d="M1236.43,191.08L1246.08,210.38L1226.78,210.38Z" fill="none" stroke="#92D050" stroke-width="2.3" stroke-linejoin="round"/>
<path d="M1251.48,183.72L1261.13,203.02L1241.83,203.02Z" fill="none" stroke="#92D050" stroke-width="2.3" stroke-linejoin="round"/>
<path d="M1266.52,177.75L1276.17,197.05L1256.87,197.05Z" fill="none" stroke="#92D050" stroke-width="2.3" stroke-linejoin="round"/>
<path d="M1285.33,171.39L1294.98,190.69L1275.67,190.69Z" fill="none" stroke="#92D050" stroke-width="2.3" stroke-linejoin="round"/>
<path d="M1319.17,162.64L1328.82,181.94L1309.52,181.94Z" fill="none" stroke="#92D050" stroke-width="2.3" stroke-linejoin="round"/>
<path d="M1353.02,155.51L1362.67,174.81L1343.37,174.81Z" fill="none" stroke="#92D050" stroke-width="2.3" stroke-linejoin="round"/>
<path d="M1386.87,149.31L1396.52,168.61L1377.22,168.61Z" fill="none" stroke="#92D050" stroke-width="2.3" stroke-linejoin="round"/>
<path d="M1420.72,144.04L1430.37,163.34L1411.07,163.34Z" fill="none" stroke="#92D050" stroke-width="2.3" stroke-linejoin="round"/>
<path d="M1454.57,139.31L1464.22,158.61L1444.92,158.61Z" fill="none" stroke="#92D050" stroke-width="2.3" stroke-linejoin="round"/>
<path d="M1499.70,133.73L1509.35,153.03L1490.05,153.03Z" fill="none" stroke="#92D050" stroke-width="2.3" stroke-linejoin="round"/>
<path d="M1514.75,131.95L1524.40,151.25L1505.10,151.25Z" fill="none" stroke="#92D050" stroke-width="2.3" stroke-linejoin="round"/>
<path d="M1544.83,128.77L1554.48,148.07L1535.18,148.07Z" fill="none" stroke="#92D050" stroke-width="2.3" stroke-linejoin="round"/>
<path d="M1574.92,125.75L1584.57,145.05L1565.27,145.05Z" fill="none" stroke="#92D050" stroke-width="2.3" stroke-linejoin="round"/>
<path d="M1605.01,122.65L1614.66,141.95L1595.36,141.95Z" fill="none" stroke="#92D050" stroke-width="2.3" stroke-linejoin="round"/>
<path d="M1635.10,125.75L1644.75,145.05L1625.45,145.05Z" fill="none" stroke="#92D050" stroke-width="2.3" stroke-linejoin="round"/>
<path d="M1665.19,128.77L1674.84,148.07L1655.54,148.07Z" fill="none" stroke="#92D050" stroke-width="2.3" stroke-linejoin="round"/>
<path d="M1680.23,131.95L1689.88,151.25L1670.58,151.25Z" fill="none" stroke="#92D050" stroke-width="2.3" stroke-linejoin="round"/>
<path d="M1725.36,133.73L1735.01,153.03L1715.71,153.03Z" fill="none" stroke="#92D050" stroke-width="2.3" stroke-linejoin="round"/>
<path d="M1759.21,139.31L1768.86,158.61L1749.56,158.61Z" fill="none" stroke="#92D050" stroke-width="2.3" stroke-linejoin="round"/>
<path d="M1793.06,144.04L1802.71,163.34L1783.41,163.34Z" fill="none" stroke="#92D050" stroke-width="2.3" stroke-linejoin="round"/>
<path d="M1826.91,149.31L1836.56,168.61L1817.26,168.61Z" fill="none" stroke="#92D050" stroke-width="2.3" stroke-linejoin="round"/>
<path d="M1860.76,155.51L1870.41,174.81L1851.11,174.81Z" fill="none" stroke="#92D050" stroke-width="2.3" stroke-linejoin="round"/>
<path d="M1894.61,162.64L1904.26,181.94L1884.96,181.94Z" fill="none" stroke="#92D050" stroke-width="2.3" stroke-linejoin="round"/>
<path d="M1913.41,171.39L1923.06,190.69L1903.76,190.69Z" fill="none" stroke="#92D050" stroke-width="2.3" stroke-linejoin="round"/>
<path d="M1928.46,177.75L1938.11,197.05L1918.81,197.05Z" fill="none" stroke="#92D050" stroke-width="2.3" stroke-linejoin="round"/>
<path d="M1943.50,183.72L1953.15,203.02L1933.85,203.02Z" fill="none" stroke="#92D050" stroke-width="2.3" stroke-linejoin="round"/>
<path d="M1958.54,191.08L1968.19,210.38L1948.89,210.38Z" fill="none" stroke="#92D050" stroke-width="2.3" stroke-linejoin="round"/>
<path d="M1973.59,200.61L1983.24,219.91L1963.94,219.91Z" fill="none" stroke="#92D050" stroke-width="2.3" stroke-linejoin="round"/>
<path d="M1988.63,215.41L1998.28,234.71L1978.98,234.71Z" fill="none" stroke="#92D050" stroke-width="2.3" stroke-linejoin="round"/>
<path d="M1996.15,322.65L2005.80,341.95L1986.50,341.95Z" fill="none" stroke="#92D050" stroke-width="2.3" stroke-linejoin="round"/>
<path d="M2003.68,554.35L2013.33,573.65L1994.03,573.65Z" fill="none" stroke="#92D050" stroke-width="2.3" stroke-linejoin="round"/>
<path d="M1191.30,564.00C1193.81,522.16 1196.31,473.14 1198.82,438.47C1201.33,403.79 1202.58,377.89 1206.34,355.94C1210.11,333.98 1216.37,320.75 1221.39,306.73C1226.40,292.72 1231.42,282.09 1236.43,271.86C1241.45,261.63 1246.46,253.02 1251.48,245.36C1256.49,237.70 1261.51,231.67 1266.52,225.91C1271.53,220.15 1276.55,215.23 1281.56,210.80C1286.58,206.37 1291.59,202.64 1296.61,199.33C1301.62,196.03 1306.64,193.31 1311.65,190.96C1316.67,188.61 1321.68,186.75 1326.70,185.23C1331.71,183.70 1336.73,182.72 1341.74,181.82C1346.75,180.92 1351.77,180.33 1356.78,179.80C1361.80,179.28 1366.81,179.04 1371.83,178.64C1376.84,178.24 1381.86,177.83 1386.87,177.40C1391.89,176.98 1396.90,176.49 1401.92,176.09C1406.93,175.68 1411.95,175.33 1416.96,175.00C1421.97,174.67 1426.99,174.37 1432.00,174.08C1437.02,173.78 1442.03,173.49 1447.05,173.23C1452.06,172.97 1457.08,172.72 1462.09,172.50C1467.11,172.28 1472.12,172.10 1477.14,171.93C1482.15,171.76 1487.17,171.61 1492.18,171.47C1497.19,171.32 1502.21,171.19 1507.22,171.07C1512.24,170.95 1517.25,170.83 1522.27,170.72C1527.28,170.61 1532.30,170.51 1537.31,170.41C1542.33,170.31 1547.34,170.20 1552.36,170.10C1557.37,169.99 1562.39,169.87 1567.40,169.77C1572.41,169.68 1577.43,169.58 1582.44,169.52C1587.46,169.46 1592.47,169.42 1597.49,169.42C1602.50,169.42 1607.52,169.46 1612.53,169.52C1617.55,169.58 1622.56,169.68 1627.58,169.77C1632.59,169.87 1637.61,169.99 1642.62,170.10C1647.63,170.20 1652.65,170.31 1657.66,170.41C1662.68,170.51 1667.69,170.61 1672.71,170.72C1677.72,170.83 1682.74,170.95 1687.75,171.07C1692.77,171.19 1697.78,171.32 1702.80,171.47C1707.81,171.61 1712.83,171.76 1717.84,171.93C1722.85,172.10 1727.87,172.28 1732.88,172.50C1737.90,172.72 1742.91,172.97 1747.93,173.23C1752.94,173.49 1757.96,173.78 1762.97,174.08C1767.99,174.37 1773.00,174.67 1778.02,175.00C1783.03,175.33 1788.05,175.68 1793.06,176.09C1798.07,176.49 1803.09,176.98 1808.10,177.40C1813.12,177.83 1818.13,178.24 1823.15,178.64C1828.16,179.04 1833.18,179.28 1838.19,179.80C1843.21,180.33 1848.22,180.92 1853.24,181.82C1858.25,182.72 1863.27,183.70 1868.28,185.23C1873.29,186.75 1878.31,188.61 1883.32,190.96C1888.34,193.31 1893.35,196.03 1898.37,199.33C1903.38,202.64 1908.40,206.37 1913.41,210.80C1918.43,215.23 1923.44,220.15 1928.46,225.91C1933.47,231.67 1938.49,237.70 1943.50,245.36C1948.51,253.02 1953.53,261.63 1958.54,271.86C1963.56,282.09 1968.57,292.72 1973.59,306.73C1978.60,320.75 1984.87,333.98 1988.63,355.94C1992.39,377.89 1993.65,403.79 1996.15,438.47C1998.66,473.14 2001.17,522.16 2003.68,564.00" fill="none" stroke="#5B9BD5" stroke-width="7.5" stroke-linecap="round" stroke-linejoin="round" clip-path="url(#cr)"/>
<path d="M1191.30,554.25L1201.05,564.00L1191.30,573.75L1181.55,564.00Z" fill="none" stroke="#5B9BD5" stroke-width="2.3" stroke-linejoin="miter"/>
<path d="M1198.82,428.72L1208.57,438.47L1198.82,448.22L1189.07,438.47Z" fill="none" stroke="#5B9BD5" stroke-width="2.3" stroke-linejoin="miter"/>
<path d="M1206.34,346.19L1216.09,355.94L1206.34,365.69L1196.59,355.94Z" fill="none" stroke="#5B9BD5" stroke-width="2.3" stroke-linejoin="miter"/>
<path d="M1221.39,296.98L1231.14,306.73L1221.39,316.48L1211.64,306.73Z" fill="none" stroke="#5B9BD5" stroke-width="2.3" stroke-linejoin="miter"/>
<path d="M1236.43,262.11L1246.18,271.86L1236.43,281.61L1226.68,271.86Z" fill="none" stroke="#5B9BD5" stroke-width="2.3" stroke-linejoin="miter"/>
<path d="M1251.48,235.61L1261.23,245.36L1251.48,255.11L1241.73,245.36Z" fill="none" stroke="#5B9BD5" stroke-width="2.3" stroke-linejoin="miter"/>
<path d="M1266.52,216.16L1276.27,225.91L1266.52,235.66L1256.77,225.91Z" fill="none" stroke="#5B9BD5" stroke-width="2.3" stroke-linejoin="miter"/>
<path d="M1281.56,201.05L1291.31,210.80L1281.56,220.55L1271.81,210.80Z" fill="none" stroke="#5B9BD5" stroke-width="2.3" stroke-linejoin="miter"/>
<path d="M1296.61,189.58L1306.36,199.33L1296.61,209.08L1286.86,199.33Z" fill="none" stroke="#5B9BD5" stroke-width="2.3" stroke-linejoin="miter"/>
<path d="M1311.65,181.21L1321.40,190.96L1311.65,200.71L1301.90,190.96Z" fill="none" stroke="#5B9BD5" stroke-width="2.3" stroke-linejoin="miter"/>
<path d="M1326.70,175.48L1336.45,185.23L1326.70,194.98L1316.95,185.23Z" fill="none" stroke="#5B9BD5" stroke-width="2.3" stroke-linejoin="miter"/>
<path d="M1341.74,172.07L1351.49,181.82L1341.74,191.57L1331.99,181.82Z" fill="none" stroke="#5B9BD5" stroke-width="2.3" stroke-linejoin="miter"/>
<path d="M1356.78,170.05L1366.53,179.80L1356.78,189.55L1347.03,179.80Z" fill="none" stroke="#5B9BD5" stroke-width="2.3" stroke-linejoin="miter"/>
<path d="M1371.83,168.89L1381.58,178.64L1371.83,188.39L1362.08,178.64Z" fill="none" stroke="#5B9BD5" stroke-width="2.3" stroke-linejoin="miter"/>
<path d="M1386.87,167.65L1396.62,177.40L1386.87,187.15L1377.12,177.40Z" fill="none" stroke="#5B9BD5" stroke-width="2.3" stroke-linejoin="miter"/>
<path d="M1401.92,166.34L1411.67,176.09L1401.92,185.84L1392.17,176.09Z" fill="none" stroke="#5B9BD5" stroke-width="2.3" stroke-linejoin="miter"/>
<path d="M1416.96,165.25L1426.71,175.00L1416.96,184.75L1407.21,175.00Z" fill="none" stroke="#5B9BD5" stroke-width="2.3" stroke-linejoin="miter"/>
<path d="M1432.00,164.33L1441.75,174.08L1432.00,183.83L1422.25,174.08Z" fill="none" stroke="#5B9BD5" stroke-width="2.3" stroke-linejoin="miter"/>
<path d="M1447.05,163.48L1456.80,173.23L1447.05,182.98L1437.30,173.23Z" fill="none" stroke="#5B9BD5" stroke-width="2.3" stroke-linejoin="miter"/>
<path d="M1462.09,162.75L1471.84,172.50L1462.09,182.25L1452.34,172.50Z" fill="none" stroke="#5B9BD5" stroke-width="2.3" stroke-linejoin="miter"/>
<path d="M1477.14,162.18L1486.89,171.93L1477.14,181.68L1467.39,171.93Z" fill="none" stroke="#5B9BD5" stroke-width="2.3" stroke-linejoin="miter"/>
<path d="M1492.18,161.72L1501.93,171.47L1492.18,181.22L1482.43,171.47Z" fill="none" stroke="#5B9BD5" stroke-width="2.3" stroke-linejoin="miter"/>
<path d="M1507.22,161.32L1516.97,171.07L1507.22,180.82L1497.47,171.07Z" fill="none" stroke="#5B9BD5" stroke-width="2.3" stroke-linejoin="miter"/>
<path d="M1522.27,160.97L1532.02,170.72L1522.27,180.47L1512.52,170.72Z" fill="none" stroke="#5B9BD5" stroke-width="2.3" stroke-linejoin="miter"/>
<path d="M1537.31,160.66L1547.06,170.41L1537.31,180.16L1527.56,170.41Z" fill="none" stroke="#5B9BD5" stroke-width="2.3" stroke-linejoin="miter"/>
<path d="M1552.36,160.35L1562.11,170.10L1552.36,179.85L1542.61,170.10Z" fill="none" stroke="#5B9BD5" stroke-width="2.3" stroke-linejoin="miter"/>
<path d="M1567.40,160.02L1577.15,169.77L1567.40,179.52L1557.65,169.77Z" fill="none" stroke="#5B9BD5" stroke-width="2.3" stroke-linejoin="miter"/>
<path d="M1582.44,159.77L1592.19,169.52L1582.44,179.27L1572.69,169.52Z" fill="none" stroke="#5B9BD5" stroke-width="2.3" stroke-linejoin="miter"/>
<path d="M1597.49,159.67L1607.24,169.42L1597.49,179.17L1587.74,169.42Z" fill="none" stroke="#5B9BD5" stroke-width="2.3" stroke-linejoin="miter"/>
<path d="M1612.53,159.77L1622.28,169.52L1612.53,179.27L1602.78,169.52Z" fill="none" stroke="#5B9BD5" stroke-width="2.3" stroke-linejoin="miter"/>
<path d="M1627.58,160.02L1637.33,169.77L1627.58,179.52L1617.83,169.77Z" fill="none" stroke="#5B9BD5" stroke-width="2.3" stroke-linejoin="miter"/>
<path d="M1642.62,160.35L1652.37,170.10L1642.62,179.85L1632.87,170.10Z" fill="none" stroke="#5B9BD5" stroke-width="2.3" stroke-linejoin="miter"/>
<path d="M1657.66,160.66L1667.41,170.41L1657.66,180.16L1647.91,170.41Z" fill="none" stroke="#5B9BD5" stroke-width="2.3" stroke-linejoin="miter"/>
<path d="M1672.71,160.97L1682.46,170.72L1672.71,180.47L1662.96,170.72Z" fill="none" stroke="#5B9BD5" stroke-width="2.3" stroke-linejoin="miter"/>
<path d="M1687.75,161.32L1697.50,171.07L1687.75,180.82L1678.00,171.07Z" fill="none" stroke="#5B9BD5" stroke-width="2.3" stroke-linejoin="miter"/>
<path d="M1702.80,161.72L1712.55,171.47L1702.80,181.22L1693.05,171.47Z" fill="none" stroke="#5B9BD5" stroke-width="2.3" stroke-linejoin="miter"/>
<path d="M1717.84,162.18L1727.59,171.93L1717.84,181.68L1708.09,171.93Z" fill="none" stroke="#5B9BD5" stroke-width="2.3" stroke-linejoin="miter"/>
<path d="M1732.88,162.75L1742.63,172.50L1732.88,182.25L1723.13,172.50Z" fill="none" stroke="#5B9BD5" stroke-width="2.3" stroke-linejoin="miter"/>
<path d="M1747.93,163.48L1757.68,173.23L1747.93,182.98L1738.18,173.23Z" fill="none" stroke="#5B9BD5" stroke-width="2.3" stroke-linejoin="miter"/>
<path d="M1762.97,164.33L1772.72,174.08L1762.97,183.83L1753.22,174.08Z" fill="none" stroke="#5B9BD5" stroke-width="2.3" stroke-linejoin="miter"/>
<path d="M1778.02,165.25L1787.77,175.00L1778.02,184.75L1768.27,175.00Z" fill="none" stroke="#5B9BD5" stroke-width="2.3" stroke-linejoin="miter"/>
<path d="M1793.06,166.34L1802.81,176.09L1793.06,185.84L1783.31,176.09Z" fill="none" stroke="#5B9BD5" stroke-width="2.3" stroke-linejoin="miter"/>
<path d="M1808.10,167.65L1817.85,177.40L1808.10,187.15L1798.35,177.40Z" fill="none" stroke="#5B9BD5" stroke-width="2.3" stroke-linejoin="miter"/>
<path d="M1823.15,168.89L1832.90,178.64L1823.15,188.39L1813.40,178.64Z" fill="none" stroke="#5B9BD5" stroke-width="2.3" stroke-linejoin="miter"/>
<path d="M1838.19,170.05L1847.94,179.80L1838.19,189.55L1828.44,179.80Z" fill="none" stroke="#5B9BD5" stroke-width="2.3" stroke-linejoin="miter"/>
<path d="M1853.24,172.07L1862.99,181.82L1853.24,191.57L1843.49,181.82Z" fill="none" stroke="#5B9BD5" stroke-width="2.3" stroke-linejoin="miter"/>
<path d="M1868.28,175.48L1878.03,185.23L1868.28,194.98L1858.53,185.23Z" fill="none" stroke="#5B9BD5" stroke-width="2.3" stroke-linejoin="miter"/>
<path d="M1883.32,181.21L1893.07,190.96L1883.32,200.71L1873.57,190.96Z" fill="none" stroke="#5B9BD5" stroke-width="2.3" stroke-linejoin="miter"/>
<path d="M1898.37,189.58L1908.12,199.33L1898.37,209.08L1888.62,199.33Z" fill="none" stroke="#5B9BD5" stroke-width="2.3" stroke-linejoin="miter"/>
<path d="M1913.41,201.05L1923.16,210.80L1913.41,220.55L1903.66,210.80Z" fill="none" stroke="#5B9BD5" stroke-width="2.3" stroke-linejoin="miter"/>
<path d="M1928.46,216.16L1938.21,225.91L1928.46,235.66L1918.71,225.91Z" fill="none" stroke="#5B9BD5" stroke-width="2.3" stroke-linejoin="miter"/>
<path d="M1943.50,235.61L1953.25,245.36L1943.50,255.11L1933.75,245.36Z" fill="none" stroke="#5B9BD5" stroke-width="2.3" stroke-linejoin="miter"/>
<path d="M1958.54,262.11L1968.29,271.86L1958.54,281.61L1948.79,271.86Z" fill="none" stroke="#5B9BD5" stroke-width="2.3" stroke-linejoin="miter"/>
<path d="M1973.59,296.98L1983.34,306.73L1973.59,316.48L1963.84,306.73Z" fill="none" stroke="#5B9BD5" stroke-width="2.3" stroke-linejoin="miter"/>
<path d="M1988.63,346.19L1998.38,355.94L1988.63,365.69L1978.88,355.94Z" fill="none" stroke="#5B9BD5" stroke-width="2.3" stroke-linejoin="miter"/>
<path d="M1996.15,428.72L2005.90,438.47L1996.15,448.22L1986.40,438.47Z" fill="none" stroke="#5B9BD5" stroke-width="2.3" stroke-linejoin="miter"/>
<path d="M2003.68,554.25L2013.43,564.00L2003.68,573.75L1993.93,564.00Z" fill="none" stroke="#5B9BD5" stroke-width="2.3" stroke-linejoin="miter"/>
<path d="M1456.3999999999999,449.6L1575.4,449.6" stroke="#ED7D31" stroke-width="5.7" stroke-dasharray="11.3 11.3" stroke-linecap="round"/>
<rect x="1506.70" y="440.40" width="18.40" height="18.40" fill="none" stroke="#ED7D31" stroke-width="2.3"/>
<path d="M1456.3999999999999,489.7L1575.4,489.7" stroke="#92D050" stroke-width="5.9" stroke-linecap="round"/>
<path d="M1515.90,481.15L1524.75,498.85L1507.05,498.85Z" fill="none" stroke="#92D050" stroke-width="2.3" stroke-linejoin="round"/>
<path d="M1457.3,529.5L1574.5,529.5" stroke="#5B9BD5" stroke-width="7.5" stroke-linecap="round"/>
<path d="M1515.90,520.75L1524.65,529.50L1515.90,538.25L1507.15,529.50Z" fill="none" stroke="#5B9BD5" stroke-width="2.3" stroke-linejoin="miter"/>
<text x="1587.6" y="461.4" font-size="40" text-anchor="start" font-weight="normal" stroke="#000" stroke-width="0.3" textLength="144.5" lengthAdjust="spacingAndGlyphs">Observed</text>
<text x="1587.6" y="501.1" font-size="40" text-anchor="start" font-weight="normal" stroke="#000" stroke-width="0.3" textLength="142.5" lengthAdjust="spacingAndGlyphs">Predicted</text>
<text x="1587.6" y="541.5" font-size="40" text-anchor="start" font-weight="normal" stroke="#000" stroke-width="0.3" textLength="82.5" lengthAdjust="spacingAndGlyphs">SKM</text>
<text x="1430.0" y="74.8" font-size="40" text-anchor="start" font-weight="bold" stroke="#000" stroke-width="0.55" textLength="328.5" lengthAdjust="spacingAndGlyphs">Flow Depth 0.11m</text>
<text x="1392.0" y="655.6" font-size="36" text-anchor="start" font-weight="bold" stroke="#000" stroke-width="0.55" textLength="355.0" lengthAdjust="spacingAndGlyphs">Lateral Distance( <tspan font-style="italic">y</tspan>),m</text>
<g transform="translate(1085.4,0) rotate(-90)"><text y="0" font-weight="bold" stroke="#000" stroke-width="0.5"><tspan x="-562.58" dy="0.00" font-size="37" font-style="normal" textLength="94.59" lengthAdjust="spacingAndGlyphs">Depth</tspan><tspan font-size="37"> </tspan><tspan x="-456.70" dy="0.00" font-size="37" font-style="normal" textLength="150.93" lengthAdjust="spacingAndGlyphs">Averaged</tspan><tspan font-size="37"> </tspan><tspan x="-293.50" dy="0.00" font-size="37" font-style="normal" textLength="126.56" lengthAdjust="spacingAndGlyphs">Velocity</tspan><tspan x="-167.11" dy="0.00" font-size="37" font-style="normal" textLength="15.48" lengthAdjust="spacingAndGlyphs">(</tspan><tspan x="-152.90" dy="0.00" font-size="37" font-style="italic" textLength="28.55" lengthAdjust="spacingAndGlyphs">U</tspan><tspan x="-130.70" dy="8.90" font-size="25" font-style="italic" textLength="13.17" lengthAdjust="spacingAndGlyphs">d</tspan><tspan x="-114.53" dy="-8.90" font-size="37" font-style="normal" textLength="22.26" lengthAdjust="spacingAndGlyphs">),</tspan><tspan font-size="37">&#160; </tspan><tspan x="-74.80" dy="0.00" font-size="37" font-style="normal" textLength="55.40" lengthAdjust="spacingAndGlyphs">m/s</tspan></text></g>
</svg>
</body></html>
